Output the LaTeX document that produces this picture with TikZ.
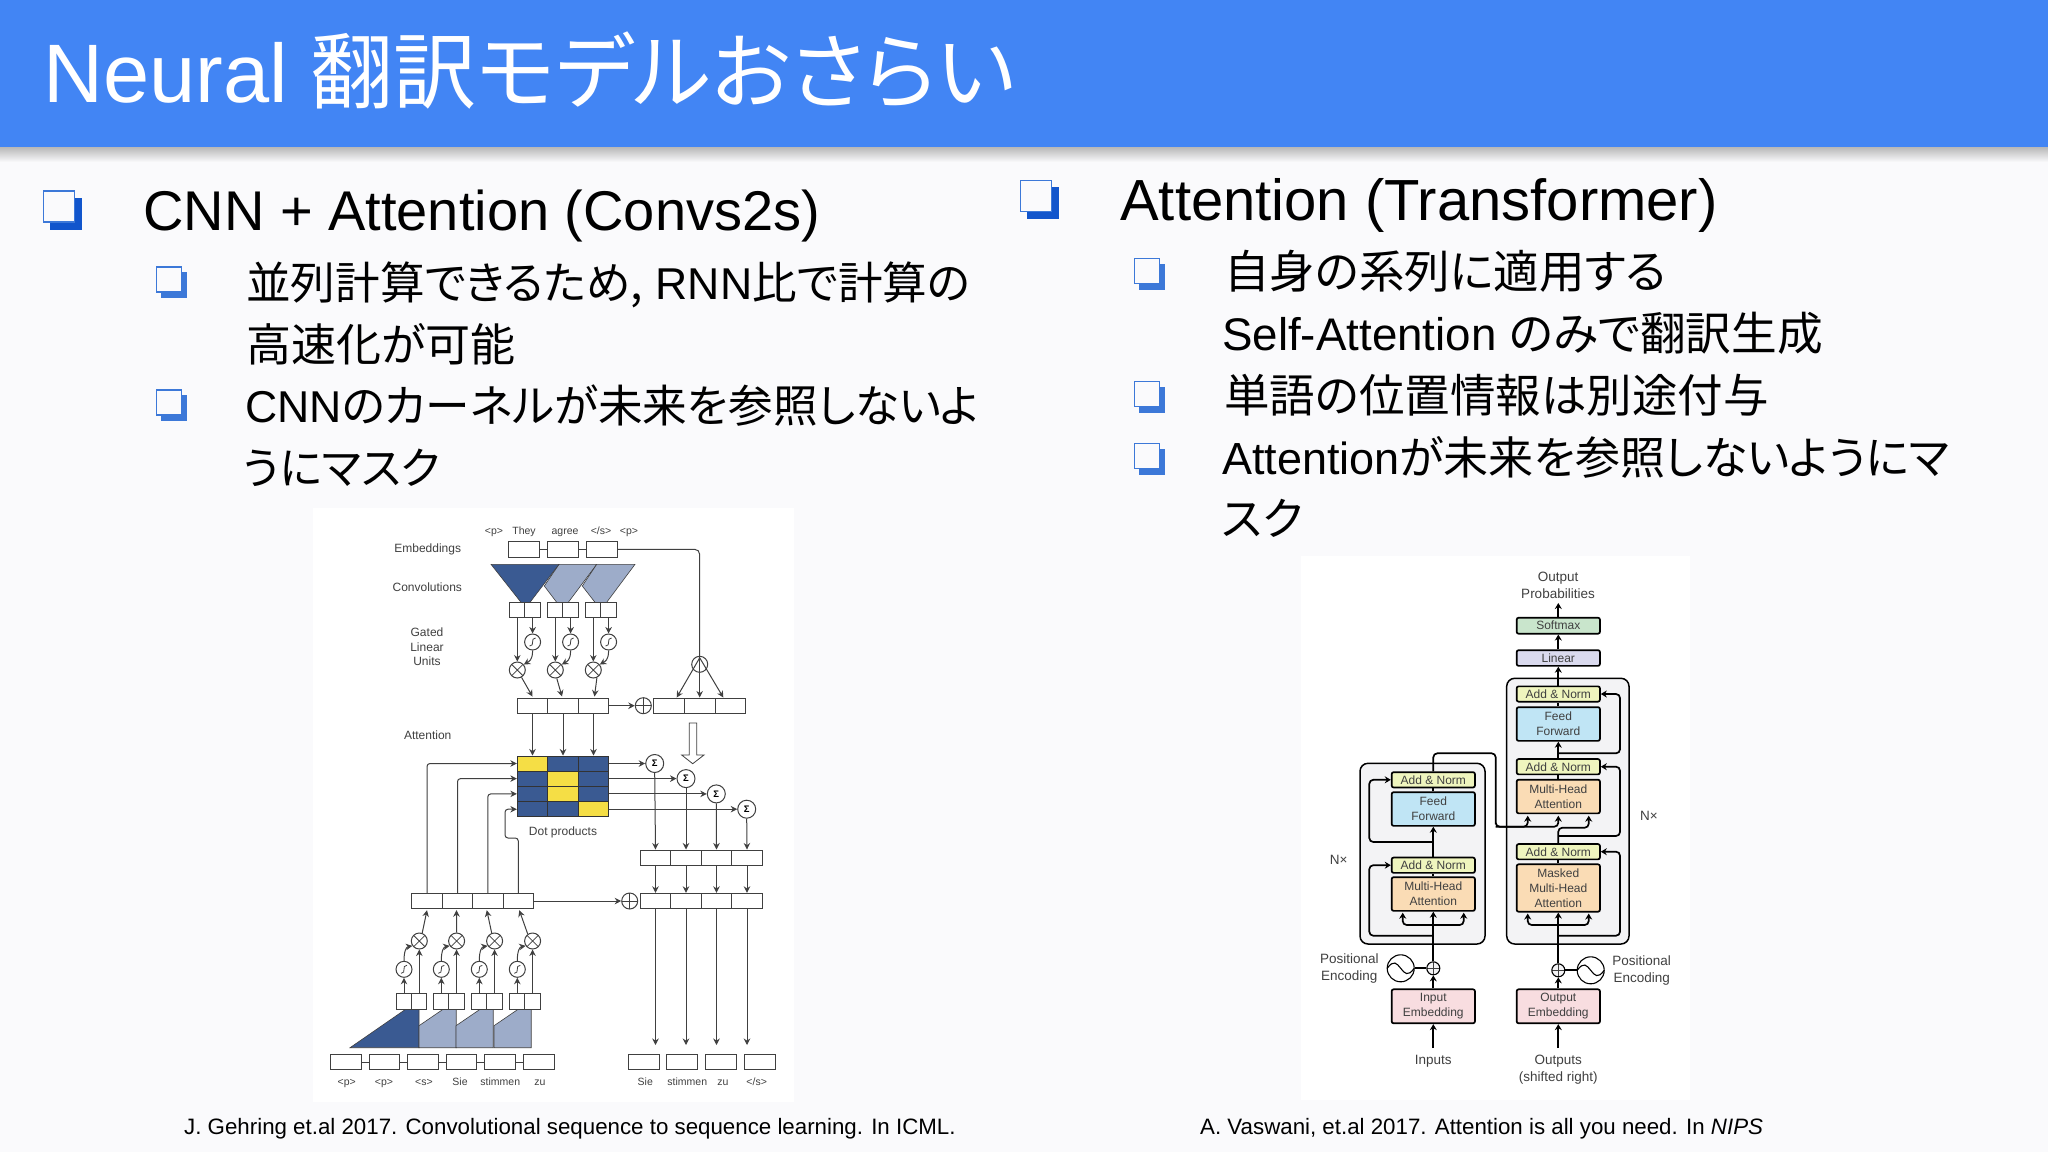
\documentclass[tikz,border=0pt]{standalone}
\usepackage{fontspec}
\setmainfont{Liberation Sans}
\newfontfamily\jp[RawFeature=+palt]{Noto Sans CJK JP}
\usetikzlibrary{arrows.meta, calc}

\definecolor{headblue}{HTML}{4285F4}
\definecolor{slidebg}{HTML}{FAFAFC}
\definecolor{bulletdark}{HTML}{1155CC}
\definecolor{bulletmid}{HTML}{3C78D8}
\definecolor{cold}{HTML}{3A5A92}
\definecolor{coly}{HTML}{F5DE45}
\definecolor{conva}{HTML}{3A5A92}
\definecolor{convb}{HTML}{9DACC9}
\definecolor{wire}{HTML}{404040}
\definecolor{addcol}{HTML}{EFF5BE}
\definecolor{ffcol}{HTML}{C0E5F5}
\definecolor{mhacol}{HTML}{FADCB5}
\definecolor{embcol}{HTML}{F8DDE0}
\definecolor{softcol}{HTML}{C9E5CC}
\definecolor{lincol}{HTML}{DADAEE}
\definecolor{stackcol}{HTML}{F3F3F5}

\tikzset{
  title/.style={anchor=base west,inner sep=0pt,text=white,font=\fontsize{83}{90}\selectfont},
  head/.style={anchor=base west,inner sep=0pt,font=\fontsize{56}{66}\selectfont},
  body/.style={anchor=base west,inner sep=0pt,font=\fontsize{45}{54}\selectfont},
  caption/.style={anchor=base west,inner sep=0pt,font=\fontsize{22.3}{28}\selectfont},
  lab/.style={inner sep=0pt,align=center,text=wire,font=\fontsize{12}{14.5}\selectfont},
  word/.style={inner sep=0pt,anchor=base,text=wire,font=\fontsize{10.5}{12}\selectfont},
  tlab/.style={inner sep=0pt,align=center,text=wire,font=\fontsize{13.5}{17}\selectfont},
  cell/.style={draw=wire,line width=1,fill=white,inner sep=0,minimum width=30.6,minimum height=15.4},
  half/.style={cell,minimum width=15.3},
  gridcell/.style={draw=black!80,line width=.8,inner sep=0,minimum width=30.5,minimum height=15.2},
  op/.style={circle,draw=wire,line width=1,fill=white,inner sep=0,minimum size=16},
  sigm/.style={op,path picture={\draw[wire,line width=.8,shift={(path picture bounding box.center)}]
      (-3,4) .. controls (3,4) and (-3,-4) .. (3,-4);}},
  mult/.style={op,path picture={\draw[wire,line width=.8] (path picture bounding box.north west) -- (path picture bounding box.south east)
      (path picture bounding box.north east) -- (path picture bounding box.south west);}},
  plus/.style={op,path picture={\draw[wire,line width=.8] (path picture bounding box.north) -- (path picture bounding box.south)
      (path picture bounding box.east) -- (path picture bounding box.west);}},
  sumc/.style={op,minimum size=18,font=\fontsize{9.5}{9.5}\selectfont\bfseries},
  wir/.style={draw=wire,line width=1,-{Stealth[length=6.5pt,width=6.5pt]},rounded corners=3},
  link/.style={draw=wire,line width=1},
  tblock/.style={draw=black,line width=1.7,rounded corners=2,inner sep=0,minimum width=83.3,align=center,
      text=wire,font=\fontsize{12}{15}\selectfont},
  addn/.style={tblock,fill=addcol,minimum height=15.3},
  ffwd/.style={tblock,fill=ffcol,minimum height=33.7},
  mhat/.style={tblock,fill=mhacol,minimum height=33.7},
  embd/.style={tblock,fill=embcol,minimum height=34},
  tarr/.style={draw=black,line width=1.7,-{Stealth[length=6pt,width=7pt]},rounded corners=4},
  tlin/.style={draw=black,line width=1.7},
  stack/.style={draw=black,line width=1.5,fill=stackcol,rounded corners=8},
  tplus/.style={circle,draw=black,line width=1.1,inner sep=0,minimum size=13,fill=stackcol,path picture={
      \draw[wire,line width=.8] (path picture bounding box.north) -- (path picture bounding box.south)
      (path picture bounding box.east) -- (path picture bounding box.west);}},
  wave/.style={circle,draw=black,line width=1.1,inner sep=0,minimum size=27,path picture={
      \draw[black,line width=1.1,shift={(path picture bounding box.center)}]
      (-13.5,0) .. controls (-7,-9) and (-4,-5) .. (0,0) .. controls (4,5) and (7,9) .. (13.5,0);}},
  bigback/.style={fill=bulletdark,inner sep=0,minimum size=32},
  bigfront/.style={draw=bulletmid,line width=1.6,fill=slidebg,inner sep=0,minimum size=31},
  smallback/.style={fill=bulletmid,inner sep=0,minimum size=26},
  smallfront/.style={draw=bulletmid,line width=1.4,fill=slidebg,inner sep=0,minimum size=25},
}

% slide bullets
\newcommand{\bigbul}[2]{\node[bigback] (#1s) at ($(#2)+(6.5,7)$) {}; \node[bigfront] (#1) at (#2) {};}
\newcommand{\smallbul}[2]{\node[smallback] (#1s) at ($(#2)+(5,5.5)$) {}; \node[smallfront] (#1) at (#2) {};}

\begin{document}
\begin{tikzpicture}[x=1pt,y=-1pt]
  \useasboundingbox (0,0) rectangle (2048,1152);
  \fill[slidebg] (0,0) rectangle (2048,1152);
  \shade[top color=black!28,bottom color=slidebg] (0,147) rectangle (2048,162);
  \fill[headblue] (0,0) rectangle (2048,147);
  \node[title] (ttl) at (43,102) {Neural {\jp 翻訳モデルおさらい}};

  % left column
  \bigbul{bl}{59,206.7}
  \node[head] (hl) at (143,230) {CNN + Attention (Convs2s)};
  \smallbul{bl1}{169,279.5}
  \node[body,font=\fontsize{44.6}{54}\selectfont] (tl1) at (246,299) {{\jp 並列計算できるため,} RNN{\jp 比で計算の}};
  \node[body] (tl2) at (246,361) {\jp 高速化が可能};
  \smallbul{bl2}{169,402.5}
  \node[body,font=\fontsize{44.6}{54}\selectfont] (tl3) at (245,422) {CNN{\jp のカーネルが未来を参照しないよ}};
  \node[body,font=\fontsize{44}{54}\selectfont] (tl4) at (243,484) {\jp うにマスク};

  % right column
  \bigbul{br}{1036,196}
  \node[head,font=\fontsize{58}{66}\selectfont] (hr) at (1120,220) {Attention (Transformer)};
  \smallbul{br1}{1147,271}
  \node[body,font=\fontsize{45.5}{54}\selectfont] (tr1) at (1224,288) {\jp 自身の系列に適用する};
  \node[body,font=\fontsize{45.7}{54}\selectfont] (tr2) at (1222,350) {Self-Attention {\jp のみで翻訳生成}};
  \smallbul{br2}{1147,394}
  \node[body,font=\fontsize{45.5}{54}\selectfont] (tr3) at (1224,412) {\jp 単語の位置情報は別途付与};
  \smallbul{br3}{1147,456}
  \node[body] (tr4) at (1222,474) {Attention{\jp が未来を参照しないようにマ}};
  \node[body] (tr5) at (1222,535) {\jp スク};

  % panels behind the figures
  \fill[white] (313,508) rectangle (794,1102);
  \fill[white] (1301,556) rectangle (1690,1100);

  \node[caption] (capl) at (184,1134) {J. Gehring et.al 2017. Convolutional sequence to sequence learning. In ICML.};
  \node[caption] (capr) at (1200,1134) {A. Vaswani, et.al 2017. Attention is all you need. In \textit{NIPS}};

  % --- convs2s figure ---
  \node[lab] (lemb) at (427.7,549) {Embeddings};
  \node[lab] (lconv) at (427.3,587) {Convolutions};
  \node[lab] (lglu) at (427,647) {Gated\\Linear\\Units};
  \node[lab] (latt) at (427.7,735.5) {Attention};
  \node[lab] (ldot) at (563,832) {Dot products};

  \foreach \x/\w [count=\i] in {494/{<p>},524/They,565/agree,601/{</s>},629/{<p>}}
    \node[word] (wt\i) at (\x,534) {\w};
  \foreach \x/\w [count=\i] in {346.7/{<p>},384/{<p>},424/{<s>},460/Sie,500.3/stimmen,540/zu}
    \node[word] (wb\i) at (\x,1085) {\w};
  \foreach \x/\w [count=\i] in {645.3/Sie,687.3/stimmen,723/zu,756.7/{</s>}}
    \node[word] (wo\i) at (\x,1085) {\w};

  % conv fans
  \draw[wire,line width=.6,fill=convb] (559,564.3) -- (596.7,564.3) -- (568.3,602.3) -- (556.7,602.3) -- (544.3,586) -- cycle;
  \draw[wire,line width=.6,fill=convb] (596.7,564.3) -- (635,564.3) -- (606.7,602.3) -- (595,602.3) -- (582.3,586) -- cycle;
  \draw[wire,line width=.6,fill=conva] (491,564.3) -- (559,564.3) -- (530,602.3) -- (521,602.3) -- cycle;
  \draw[wire,line width=.6,fill=conva] (350,1047.7) -- (419,1047.7) -- (419,1009) -- (406,1009) -- cycle;
  \foreach \x in {419,456,494}
    \draw[wire,line width=.6,fill=convb] (\x,1047.7) -- ($(\x,1047.7)+(37.2,0)$) -- ($(\x,1009)+(37.2,0)$) -- ($(\x,1009)+(24.5,0)$) -- (\x,1025.7) -- cycle;

  % top row and its glu pairs
  \foreach \x [count=\i] in {524.2,563,601.7}
    \node[cell] (e\i) at (\x,549.3) {};
  \draw[link] (e1) -- (e2) (e2) -- (e3);
  \foreach \x [count=\i] in {517.3,555.3,593.3} {
    \node[half] (ca\i) at (\x,610) {};
    \node[half] (cb\i) at (\x+15.3,610) {};
    \node[sigm] (sg\i) at (\x+15.3,642) {};
    \node[mult] (mu\i) at (\x,670) {};
    \draw[wir] (ca\i.south) -- (mu\i.north);
    \draw[wir] (cb\i.south) -- (sg\i.north);
    \draw[wir] (sg\i.south) .. controls +(0,10) and +(5,-3) .. (mu\i.40);
  }
  \foreach \x [count=\i] in {532.5,563,593.5}
    \node[cell] (ra\i) at (\x,705.7) {};
  \foreach \x [count=\i] in {669,699.7,730.3}
    \node[cell] (rb\i) at (\x,705.7) {};
  \draw[wir] (mu1.-60) -- ($(ra1.north)+(0,-1)$);
  \draw[wir] (mu2.-80) -- ($(ra2.north)+(-1,-1)$);
  \draw[wir] (mu3.-65) -- ($(ra3.north)+(1,-1)$);
  \node[plus] (pa) at (643.3,705.7) {};
  \draw[wir] (ra3.east) -- (pa.west);
  \node[op] (fan) at (699.7,664.3) {};
  \draw[link,rounded corners=5] (e3.east) -| (fan.north);
  \draw[wir] ($(fan.north)+(0,2)$) -- ($(rb1.north)+(7.7,0)$);
  \draw[wir] (fan.north) -- (rb2.north);
  \draw[wir] ($(fan.north)+(0,2)$) -- ($(rb3.north)+(-7,0)$);

  % hollow arrow
  \draw[wire,line width=.8,fill=white] (689.3,723) -- (696.7,723) -- (696.7,755) -- (704,755) -- (692.7,763.7) -- (681.7,755) -- (689.3,755) -- cycle;

  % dot product grid
  \foreach \y/\a/\b/\c [count=\r] in {763.5/y/d/d,778.6/d/y/d,793.9/d/y/d,809.2/d/d/y} {
    \node[gridcell,fill=col\a] (g\r1) at (532.5,\y) {};
    \node[gridcell,fill=col\b] (g\r2) at (563,\y) {};
    \node[gridcell,fill=col\c] (g\r3) at (593.5,\y) {};
  }
  \foreach \i in {1,2,3}
    \draw[wir] (ra\i.south) -- (g1\i.north);
  \foreach \x/\y [count=\i] in {654.7/763.5,686/778.6,716.3/793.9,746.7/809.2} {
    \node[sumc] (s\i) at (\x,\y) {Σ};
    \draw[wir] (g\i3.east) -- (s\i.west);
  }

  % target side rows
  \foreach \x [count=\i] in {655.5,686,716.5,747} {
    \node[cell] (ta\i) at (\x,857.7) {};
    \node[cell] (tb\i) at (\x,901) {};
    \coordinate (te\i) at (\x,1045);
    \draw[wir] (s\i.south) -- (ta\i.north);
    \draw[wir] (ta\i.south) -- (tb\i.north);
    \draw[wir] (tb\i.south) -- (te\i);
  }
  \foreach \x [count=\i] in {644.2,682.2,721,759.7}
    \node[cell] (to\i) at (\x,1062) {};
  \node[plus] (pb) at (629.7,901) {};

  % source side
  \foreach \x [count=\i] in {427,457.5,487.8,518.3}
    \node[cell] (sr\i) at (\x,901) {};
  \draw[wir] (sr4.east) -- (pb.west);
  \draw[wir] (sr1.north) |- (g11.west);
  \draw[wir] (sr2.north) |- (g21.west);
  \draw[wir] (sr3.north) |- (g31.west);
  \draw[wir] (sr4.north) -- (518.3,838) -- (505,838) |- (g41.west);
  \foreach \x [count=\i] in {404,441.3,479.3,517.3} {
    \node[half] (da\i) at (\x,1001.3) {};
    \node[half] (db\i) at (\x+15.3,1001.3) {};
    \node[sigm] (dg\i) at (\x,969.3) {};
    \node[mult] (dm\i) at (\x+15.3,941) {};
    \draw[wir] (da\i.north) -- (dg\i.south);
    \draw[wir] (db\i.north) -- (dm\i.south);
    \draw[wir] (dg\i.north) .. controls +(0,-10) and +(-6,1) .. (dm\i.215);
  }
  \draw[wir] (dm1.70) -- ($(sr1.south)+(0,1)$);
  \draw[wir] (dm2.90) -- ($(sr2.south)+(-1,1)$);
  \draw[wir] (dm3.110) -- ($(sr3.south)+(-1,1)$);
  \draw[wir] (dm4.125) -- ($(sr4.south)+(1,1)$);
  \foreach \x [count=\i] in {345.8,384.5,423.2,461.3,500,538.7}
    \node[cell] (ib\i) at (\x,1062) {};
  \foreach \a/\b in {1/2,2/3,3/4,4/5,5/6}
    \draw[link] (ib\a) -- (ib\b);

  % --- transformer figure ---
  \draw[stack] (1360,763.3) rectangle (1485,944);
  \draw[stack] (1506.7,678.3) rectangle (1629,944);

  \node[tblock,fill=softcol,minimum height=16] (soft) at (1558.3,625.7) {Softmax};
  \node[tblock,fill=lincol,minimum height=15.7] (lin) at (1558.3,658) {Linear};
  \node[addn] (addD1) at (1558.3,694) {Add \& Norm};
  \node[ffwd] (ffD) at (1558.3,724) {Feed\\Forward};
  \node[addn] (addD2) at (1558.3,766.7) {Add \& Norm};
  \node[mhat] (mhaD) at (1558.3,796.5) {Multi-Head\\Attention};
  \node[addn] (addD3) at (1558.3,851.7) {Add \& Norm};
  \node[mhat,minimum height=47.4] (mskD) at (1558.3,888) {Masked\\Multi-Head\\Attention};
  \node[embd] (embD) at (1558.3,1006.3) {Output\\Embedding};
  \node[addn] (addE1) at (1433.3,779.8) {Add \& Norm};
  \node[ffwd] (ffE) at (1433.3,809) {Feed\\Forward};
  \node[addn] (addE2) at (1433.3,865.2) {Add \& Norm};
  \node[mhat] (mhaE) at (1433.3,894) {Multi-Head\\Attention};
  \node[embd] (embE) at (1433.3,1006.3) {Input\\Embedding};

  \node[tplus] (plE) at (1433.3,968.3) {};
  \node[tplus] (plD) at (1558.3,970.3) {};
  \node[wave] (waE) at (1400.7,968.3) {};
  \node[wave] (waD) at (1590.7,970.3) {};

  \node[tlab] (lout) at (1558,585) {Output\\Probabilities};
  \node[tlab] (lpe1) at (1349.3,968) {Positional\\Encoding};
  \node[tlab] (lpe2) at (1641.7,970.5) {Positional\\Encoding};
  \node[tlab] (linp) at (1433.3,1061.5) {Inputs};
  \node[tlab] (lot) at (1558.3,1070) {Outputs\\(shifted right)};
  \node[tlab] (nxE) at (1338.7,860) {N×};
  \node[tlab] (nxD) at (1649,816.3) {N×};

  \coordinate (inE) at (1433.3,1048);
  \coordinate (inD) at (1558.3,1048);
  \coordinate (top) at (1558.3,603);
  \coordinate (brE) at (1433.3,925);
  \coordinate (brD) at (1558.3,925);
  \coordinate (resE) at (1433.3,935.7);
  \coordinate (resD) at (1558.3,935.7);
  \coordinate (midE) at (1433.3,842);
  \coordinate (midD) at (1558.3,836);
  \coordinate (upD) at (1558.3,753.3);
  \coordinate (railE) at (1369.3,0);
  \coordinate (railD) at (1620,0);
  \coordinate (enc) at (1495.7,826.7);

  \draw[tarr] (inE) -- (embE.south);
  \draw[tarr] (embE.north) -- (plE.south);
  \draw[tarr] (plE.north) -- (mhaE.south);
  \draw[tlin] (waE.east) -- (plE.west);
  \draw[tarr] (brE) -| ($(mhaE.south)+(-30.6,1)$);
  \draw[tarr] (brE) -| ($(mhaE.south)+(30.4,1)$);
  \draw[tarr] (resE) -- (resE -| railE) |- (addE2.west);
  \draw[tlin] (mhaE.north) -- (addE2.south);
  \draw[tarr] (addE2.north) -- (ffE.south);
  \draw[tarr] (midE) -- (midE -| railE) |- (addE1.west);
  \draw[tlin] (ffE.north) -- (addE1.south);

  \draw[tarr] (addE1.north) |- (1495.7,753.3) |- (enc) -| ($(mhaD.south)+(0,1.5)$);
  \draw[tarr] (enc) -| ($(mhaD.south)+(-30.6,1.5)$);

  \draw[tarr] (inD) -- (embD.south);
  \draw[tarr] (embD.north) -- (plD.south);
  \draw[tarr] (plD.north) -- (mskD.south);
  \draw[tlin] (waD.west) -- (plD.east);
  \draw[tarr] (brD) -| ($(mskD.south)+(-30.6,1)$);
  \draw[tarr] (brD) -| ($(mskD.south)+(30.4,1)$);
  \draw[tarr] (resD) -- (resD -| railD) |- (addD3.east);
  \draw[tlin] (mskD.north) -- (addD3.south);
  \draw[tarr] (midD) -- (midD -| railD) |- (addD2.east);
  \draw[tarr] (addD3.north) |- ($(mhaD.south)+(15,13.5)$) -| ($(mhaD.south)+(30.4,1.5)$);
  \draw[tlin] (mhaD.north) -- (addD2.south);
  \draw[tarr] (addD2.north) -- (ffD.south);
  \draw[tarr] (upD) -- (upD -| railD) |- (addD1.east);
  \draw[tlin] (ffD.north) -- (addD1.south);
  \draw[tarr] (addD1.north) -- (lin.south);
  \draw[tarr] (lin.north) -- (soft.south);
  \draw[tarr] (soft.north) -- (top);
\end{tikzpicture}
\end{document}
